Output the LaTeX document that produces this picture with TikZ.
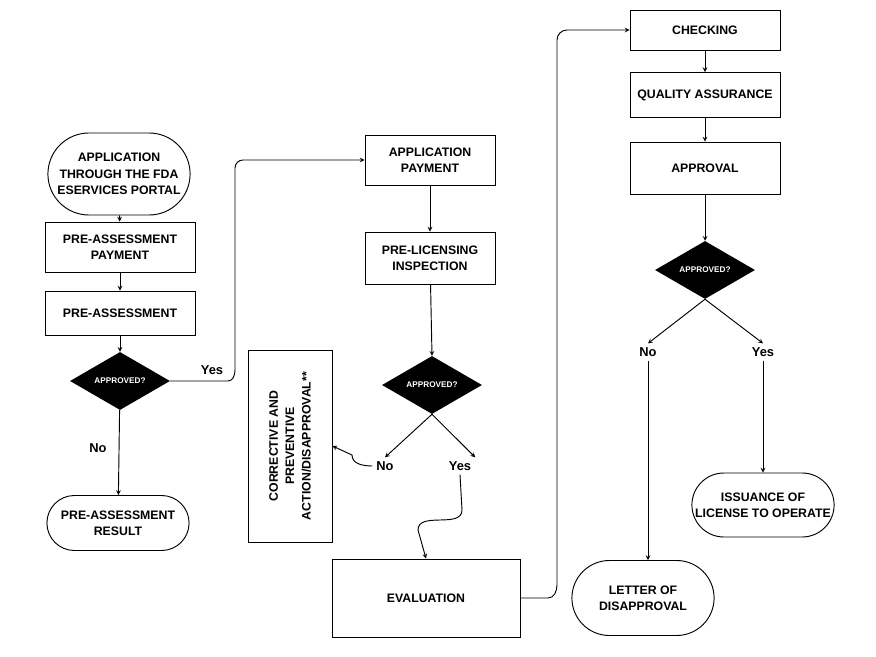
\documentclass[tikz,border=0pt]{standalone}
\usepackage{fontspec}
\setmainfont{Liberation Sans}
\usetikzlibrary{shapes.geometric, shapes.misc}

\begin{document}
\begin{tikzpicture}[x=0.03cm, y=-0.03cm, >=stealth,
    every node/.style={font=\bfseries\fontsize{10.5}{14}\selectfont, align=center},
    box/.style={rectangle, draw, thick, minimum width=150*0.03cm, minimum height=50*0.03cm},
    term/.style={rounded rectangle, draw, thick, minimum width=150*0.03cm, minimum height=55*0.03cm},
    decide/.style={diamond, fill=black, text=white, font=\bfseries\fontsize{7}{8}\selectfont,
        minimum width=100*0.03cm, minimum height=58*0.03cm, inner sep=0pt, aspect=1.8},
    lbl/.style={font=\bfseries\fontsize{11}{13}\selectfont}]
    % white background
    \fill[white] (0,0) rectangle (876,657);
    % left column
    \node (portal) [term, minimum height=82*0.03cm] at (119,174) {APPLICATION\\THROUGH THE FDA\\ESERVICES PORTAL};
    \node (prepay) [box] at (120,247) {PRE-ASSESSMENT\\PAYMENT};
    \node (preass) [box, minimum height=44*0.03cm] at (120,313) {PRE-ASSESSMENT};
    \node (appr1) [decide] at (120,381) {APPROVED?};
    \node (result) [term] at (118,523) {PRE-ASSESSMENT\\RESULT};
    % middle column
    \node (apppay) [box, minimum width=130*0.03cm] at (430,160) {APPLICATION\\PAYMENT};
    \node (prelic) [box, minimum width=130*0.03cm, minimum height=52*0.03cm] at (430,258) {PRE-LICENSING\\INSPECTION};
    \node (appr2) [decide] at (432,385) {APPROVED?};
    \node (capa) [box, minimum width=192*0.03cm, minimum height=84*0.03cm, rotate=90] at (290,446) {CORRECTIVE AND\\PREVENTIVE\\ACTION/DISAPPROVAL**};
    \node (eval) [box, minimum width=188*0.03cm, minimum height=78*0.03cm] at (426,598) {EVALUATION};
    % right column
    \node (check) [box, minimum height=40*0.03cm] at (705,30) {CHECKING};
    \node (qa) [box, minimum height=45*0.03cm] at (705,95) {QUALITY ASSURANCE};
    \node (approval) [box, minimum height=52*0.03cm] at (705,168) {APPROVAL};
    \node (appr3) [decide] at (705,270) {APPROVED?};
    \node (issue) [term, minimum height=64*0.03cm] at (763,505) {ISSUANCE OF\\LICENSE TO OPERATE};
    \node (letter) [term, minimum height=75*0.03cm] at (643,598) {LETTER OF\\DISAPPROVAL};
    % labels
    \node (yes1) [lbl] at (212,370) {Yes};
    \node (no1) [lbl] at (98,448) {No};
    \node (no2) [lbl] at (385,466) {No};
    \node (yes2) [lbl] at (460,466) {Yes};
    \node (no3) [lbl] at (648,352) {No};
    \node (yes3) [lbl] at (763,352) {Yes};
    % arrows
    \draw[->, thick] (portal) -- (prepay);
    \draw[->, thick] (prepay) -- (preass);
    \draw[->, thick] (preass) -- (appr1);
    \draw[->, thick] (appr1) -- (result);
    \draw[->, thick] (appr1.east) -- (228,381) to[out=0, in=-90] (235,370) -- (235,168)
        to[out=90, in=180] (243,160) -- (apppay.west);
    \draw[->, thick] (apppay) -- (prelic);
    \draw[->, thick] (prelic) -- (appr2.north);
    \draw[->, thick] (appr2.south) -- (no2.north);
    \draw[->, thick] (appr2.south) -- (yes2.north east);
    \draw[->, thick] (no2.west) to[out=180, in=-90] (352,455) -- (capa.south);
    \draw[->, thick] (yes2.south) -- (462,510) to[out=-90, in=90] (418,530) -- (eval.north);
    \draw[->, thick] (eval.east) -- (548,598) to[out=0, in=-90] (557,585) -- (557,40)
        to[out=90, in=180] (567,30) -- (check.west);
    \draw[->, thick] (check) -- (qa);
    \draw[->, thick] (qa) -- (approval);
    \draw[->, thick] (approval) -- (appr3.north);
    \draw[->, thick] (appr3.south) -- (no3.north);
    \draw[->, thick] (appr3.south) -- (yes3.north);
    \draw[->, thick] (no3.south) -- (no3.south |- letter.north);
    \draw[->, thick] (yes3.south) -- (yes3.south |- issue.north);
\end{tikzpicture}
\end{document}
